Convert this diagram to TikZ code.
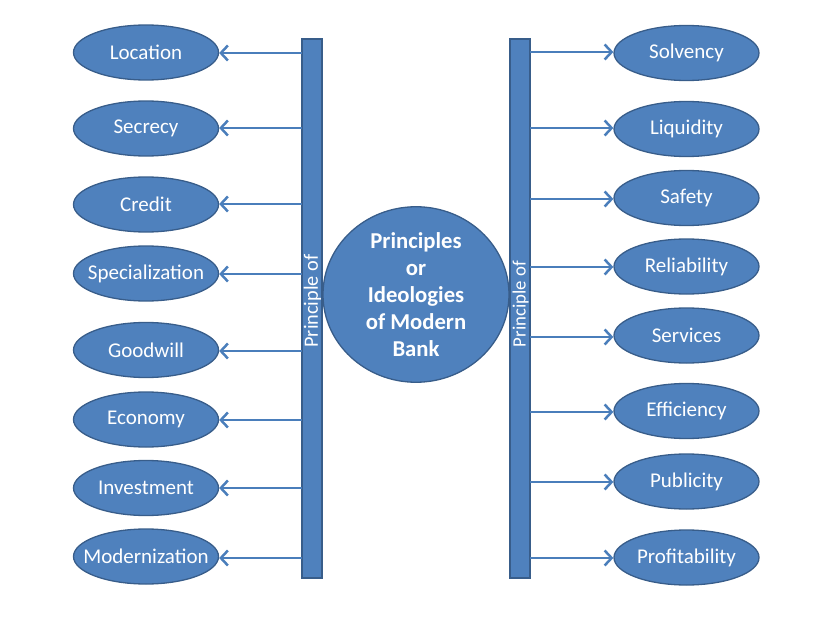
\documentclass[tikz,border=0pt]{standalone}
\usepackage{fontspec}
\setmainfont{Carlito}
\usetikzlibrary{arrows.meta,shapes.geometric}
\definecolor{fillblue}{HTML}{4F81BD}
\definecolor{edgeblue}{HTML}{385D8A}
\definecolor{lineblue}{HTML}{4A7EBB}
\tikzset{
  item/.style={ellipse, draw=edgeblue, fill=fillblue, line width=1.3pt, minimum width=145pt, minimum height=55pt, inner sep=0pt, text=white, font=\fontsize{21}{24}\selectfont},
  bar/.style={draw=edgeblue, fill=fillblue, line width=1.3pt},
  link/.style={lineblue, line width=2.5pt, -{Straight Barb[length=7pt,width=15pt,line width=2.5pt]}},
}
\begin{document}
\begin{tikzpicture}[x=1pt,y=-1pt]
\useasboundingbox (0,0) rectangle (825,618);
% bars
\draw[bar] (302,39) rectangle (322,578);
\draw[bar] (510,39) rectangle (530,578);
\node[rotate=90, text=white, font=\fontsize{20.3}{22}\selectfont, inner sep=0pt] (lt) at (312.5,301) {Principle of};
\node[rotate=90, text=white, font=\fontsize{18.8}{20}\selectfont, inner sep=0pt] (rt) at (520.5,304) {Principle of};
% centre
\node[ellipse, draw=edgeblue, fill=fillblue, line width=1.3pt, minimum width=186pt, minimum height=155pt, inner sep=0pt, text=white, align=center, font=\fontsize{22.7}{27}\selectfont\bfseries] (c) at (416,294.5) {Principles\\or\\Ideologies\\of Modern\\Bank};
% left items
\foreach \n/\t/\y/\a in {l1/Location/52.5/53, l2/Secrecy/128.5/128, l3/Credit/204.5/204, l4/Specialization/273.5/274, l5/Goodwill/350/351, l6/Economy/419.5/420, l7/Investment/488/488, l8/Modernization/556.5/558}{
  \node[item] (\n) at (146,\y) {\makebox[0pt]{\t}};
  \coordinate (\n s) at (302,\a);
  \draw[link] (\n s) -- (\n s -| \n.east);
}
% right items
\foreach \n/\t/\y/\a in {r1/Solvency/53/52, r2/Liquidity/129/128, r3/Safety/198/199, r4/Reliability/266.5/267, r5/Services/335.5/337, r6/Efficiency/411/412, r7/Publicity/481.5/482, r8/Profitability/557.5/558}{
  \node[item] (\n) at (686.5,\y) {\makebox[0pt]{\t}};
  \coordinate (\n s) at (530,\a);
  \draw[link] (\n s) -- (\n s -| \n.west);
}
\end{tikzpicture}
\end{document}
